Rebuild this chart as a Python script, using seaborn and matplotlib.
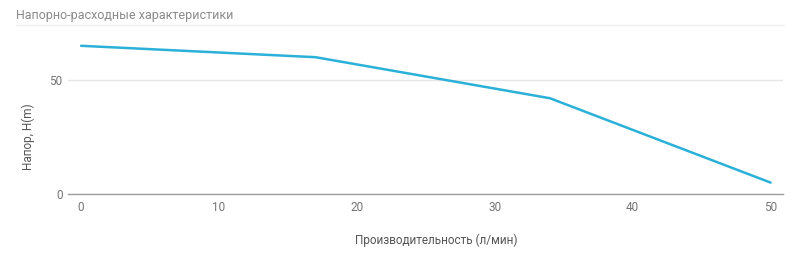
import matplotlib
matplotlib.use("Agg")
import matplotlib.pyplot as plt
import seaborn as sns
import pandas as pd
from matplotlib.lines import Line2D

flow = [0, 17, 34, 50]
head = [65, 60, 42, 5]
x_ticks = [0, 10, 20, 30, 40, 50]
y_ticks = [0, 50]

title = "Напорно-расходные характеристики"
x_label = "Производительность (л/мин)"
y_label = "Напор, H(m)"

sns.set_theme(style="white")
plt.rcParams["font.family"] = ["Roboto", "DejaVu Sans"]

W, H = 811, 254
fig = plt.figure(figsize=(W / 100, H / 100), dpi=100)
ax = fig.add_axes([68 / W, 1 - 194 / H, (783 - 68) / W, (194 - 30) / H])

df = pd.DataFrame({"flow": flow, "head": head})
sns.lineplot(data=df, x="flow", y="head", ax=ax, color="#2bb0d8", linewidth=1.8)

ax.set_xlim(-0.95, 50.9)
ax.set_ylim(0, (194 - 30) / 2.28)
ax.set_xticks(x_ticks)
ax.set_yticks(y_ticks)
for s in ["top", "right", "left"]:
    ax.spines[s].set_visible(False)
ax.spines["bottom"].set_color("#9e9e9e")
ax.spines["bottom"].set_linewidth(1.0)
ax.grid(axis="y", color="#e6e6e6", linewidth=1.0)
ax.set_axisbelow(True)
ax.tick_params(axis="both", length=0, labelsize=8.5, labelcolor="#757575")
ax.tick_params(axis="x", pad=5)
ax.tick_params(axis="y", pad=4)

ax.set_xlabel("")
ax.set_ylabel("")
fig.text(436 / W, 1 - 240 / H, x_label, fontsize=8.5, color="#555555", ha="center", va="center")
fig.text(28 / W, 1 - 137 / H, y_label, fontsize=8.5, color="#555555", ha="center", va="center",
         rotation=90)

fig.text(16 / W, 1 - 15 / H, title, fontsize=9, color="#8a8a8a", va="center", ha="left")
fig.add_artist(Line2D([16 / W, 784 / W], [1 - 25 / H, 1 - 25 / H], color="#eeeeee", linewidth=1.0))

fig.savefig("out.png", dpi=100, facecolor="white")
